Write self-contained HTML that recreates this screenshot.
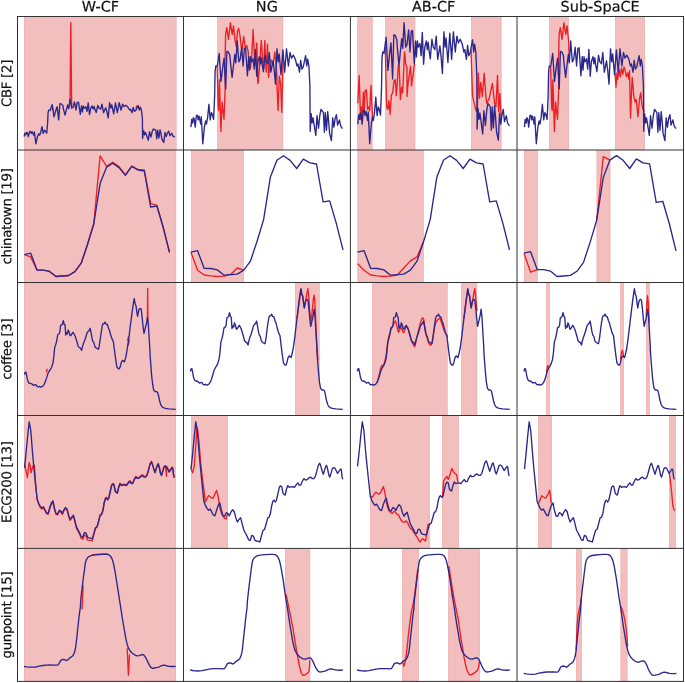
<!DOCTYPE html>
<html lang="en"><head><meta charset="utf-8"><title>Counterfactual comparison</title>
<style>html,body{margin:0;padding:0;background:#fff;}svg{display:block;}text{font-family:"DejaVu Sans","Liberation Sans",sans-serif;fill:#111;}</style></head><body>
<svg width="685" height="683" viewBox="0 0 685 683">
<rect x="0" y="0" width="685" height="683" fill="#fff"/>
<defs>
<clipPath id="c00"><rect x="17.50" y="16.50" width="166.00" height="133.50"/></clipPath>
<clipPath id="c01"><rect x="183.50" y="16.50" width="166.90" height="133.50"/></clipPath>
<clipPath id="c02"><rect x="350.40" y="16.50" width="166.60" height="133.50"/></clipPath>
<clipPath id="c03"><rect x="517.00" y="16.50" width="166.50" height="133.50"/></clipPath>
<clipPath id="c10"><rect x="17.50" y="150.00" width="166.00" height="132.50"/></clipPath>
<clipPath id="c11"><rect x="183.50" y="150.00" width="166.90" height="132.50"/></clipPath>
<clipPath id="c12"><rect x="350.40" y="150.00" width="166.60" height="132.50"/></clipPath>
<clipPath id="c13"><rect x="517.00" y="150.00" width="166.50" height="132.50"/></clipPath>
<clipPath id="c20"><rect x="17.50" y="282.50" width="166.00" height="133.00"/></clipPath>
<clipPath id="c21"><rect x="183.50" y="282.50" width="166.90" height="133.00"/></clipPath>
<clipPath id="c22"><rect x="350.40" y="282.50" width="166.60" height="133.00"/></clipPath>
<clipPath id="c23"><rect x="517.00" y="282.50" width="166.50" height="133.00"/></clipPath>
<clipPath id="c30"><rect x="17.50" y="415.50" width="166.00" height="132.90"/></clipPath>
<clipPath id="c31"><rect x="183.50" y="415.50" width="166.90" height="132.90"/></clipPath>
<clipPath id="c32"><rect x="350.40" y="415.50" width="166.60" height="132.90"/></clipPath>
<clipPath id="c33"><rect x="517.00" y="415.50" width="166.50" height="132.90"/></clipPath>
<clipPath id="c40"><rect x="17.50" y="548.40" width="166.00" height="133.00"/></clipPath>
<clipPath id="c41"><rect x="183.50" y="548.40" width="166.90" height="133.00"/></clipPath>
<clipPath id="c42"><rect x="350.40" y="548.40" width="166.60" height="133.00"/></clipPath>
<clipPath id="c43"><rect x="517.00" y="548.40" width="166.50" height="133.00"/></clipPath>
</defs>
<g clip-path="url(#c00)">
<rect x="24.00" y="16.50" width="152.40" height="133.50" fill="#f3bebe"/>
<rect x="24.00" y="16.50" width="0.6" height="133.50" fill="#eeb0b0"/>
<rect x="175.80" y="16.50" width="0.6" height="133.50" fill="#eeb0b0"/>
<polyline points="70.0,104.5 70.8,22.6 71.7,106.5" fill="none" stroke="#ec2024" stroke-width="1.35" stroke-linejoin="round" stroke-linecap="butt"/>
<polyline points="52.0,109.5 52.8,108.2 53.5,110.5" fill="none" stroke="#ec2024" stroke-width="1.35" stroke-linejoin="round" stroke-linecap="butt"/>
<polyline points="135.8,108.5 136.8,106.0 137.8,108.0" fill="none" stroke="#ec2024" stroke-width="1.35" stroke-linejoin="round" stroke-linecap="butt"/>
<polyline points="24.1,136.6 24.9,133.2 25.9,134.8 26.5,132.5 27.4,132.9 28.3,136.6 29.6,131.6 30.5,131.4 31.4,133.4 32.2,131.8 33.8,135.2 34.4,132.0 35.9,143.8 37.5,136.6 38.7,133.8 39.6,135.2 40.8,132.0 42.0,126.6 43.2,133.4 44.5,130.2 45.4,131.1 46.7,133.2 47.6,123.5 48.1,112.3 48.9,110.0 50.1,110.5 52.2,104.6 54.0,116.8 55.8,110.5 57.1,106.6 58.7,119.9 59.9,103.7 61.3,103.9 62.8,105.5 63.5,109.1 65.0,115.0 66.2,110.5 67.7,105.0 68.7,108.6 70.1,99.2 71.7,108.2 73.0,107.3 74.5,101.9 76.0,110.0 77.2,102.3 78.5,102.1 80.3,114.3 81.5,105.9 82.4,111.8 83.3,105.9 84.3,108.2 85.8,106.8 87.0,111.4 88.2,102.8 89.5,114.5 90.7,108.2 92.1,105.9 93.1,109.1 94.1,106.4 95.0,109.6 96.2,112.5 97.8,105.3 99.0,108.2 100.8,109.1 100.8,108.2 102.0,104.1 103.5,112.7 104.5,110.5 105.7,107.7 106.9,111.8 108.2,117.9 109.6,102.6 110.9,108.2 111.8,104.8 113.7,113.8 115.5,103.0 117.3,112.7 119.2,102.6 121.0,110.0 122.6,104.1 124.1,106.6 125.9,105.3 127.7,106.8 129.6,110.0 130.4,109.1 132.0,112.7 133.2,107.5 134.4,111.4 135.7,110.5 136.9,108.0 138.1,105.5 139.3,110.0 140.2,107.1 141.4,110.0 142.4,118.6 142.6,138.4 143.6,130.7 144.6,134.8 145.4,132.5 146.7,135.7 148.3,140.2 149.5,131.6 150.9,137.0 152.2,131.6 153.4,128.9 154.6,129.6 155.8,130.2 156.8,138.8 157.7,130.2 158.9,137.9 160.1,129.8 161.0,133.8 162.0,139.3 163.8,142.4 165.0,132.5 166.2,136.6 167.5,132.9 168.7,131.1 169.9,135.7 171.7,133.4 173.0,136.1 174.8,137.2" fill="none" stroke="#2b278c" stroke-width="1.35" stroke-linejoin="round" stroke-linecap="butt"/>
</g>
<g clip-path="url(#c01)">
<rect x="217.20" y="16.50" width="65.90" height="133.50" fill="#f3bebe"/>
<rect x="217.20" y="16.50" width="0.6" height="133.50" fill="#eeb0b0"/>
<rect x="282.50" y="16.50" width="0.6" height="133.50" fill="#eeb0b0"/>
<polyline points="217.2,67.7 218.2,106.9 218.7,110.6 219.4,79.8 220.9,131.5 222.1,102.0 223.1,111.8 224.0,119.2 225.2,88.4 225.0,65.2 225.6,34.4 226.8,27.7 228.5,39.4 230.4,22.8 232.2,34.4 233.5,25.8 235.1,40.6 236.3,46.7 237.5,30.8 238.7,28.3 240.0,35.7 241.2,46.7 242.1,49.2 243.7,36.3 245.3,48.0 246.7,45.5 248.2,51.7 249.2,65.2 250.4,68.9 251.7,56.6 253.1,29.5 254.7,62.7 256.0,65.2 256.8,43.1 257.8,83.6 256.3,43.2 258.1,82.7 259.8,63.4 261.3,40.5 263.1,65.1 263.8,68.7 264.8,40.5 266.2,72.2 267.5,44.1 268.6,77.4 269.9,63.4 271.3,59.9 272.6,65.1 273.9,59.0 274.8,52.0 276.1,65.1 277.0,79.2 276.9,84.8 278.1,110.6 279.3,76.1 280.6,83.5 281.8,112.4 282.6,79.8 283.1,56.4" fill="none" stroke="#ec2024" stroke-width="1.35" stroke-linejoin="round" stroke-linecap="butt"/>
<polyline points="190.9,127.1 191.7,119.4 192.7,123.0 193.3,117.8 194.2,118.8 195.2,127.1 196.4,115.7 197.4,115.2 198.2,119.9 199.1,116.2 200.7,124.0 201.3,116.8 202.8,143.8 204.4,127.1 205.6,120.9 206.5,124.0 207.7,116.8 208.9,104.3 210.2,119.9 211.4,112.6 212.4,114.7 213.6,119.4 214.6,97.0 215.1,71.2 215.8,66.0 217.1,67.0 219.2,53.5 221.0,81.5 222.8,67.0 224.1,58.2 225.7,88.8 226.9,51.4 228.4,51.9 229.9,55.6 230.6,63.9 232.1,77.4 233.3,67.0 234.8,54.5 235.8,62.8 237.2,41.0 238.8,61.8 240.1,59.7 241.7,47.3 243.1,66.0 244.4,48.3 245.6,47.8 247.4,75.8 248.7,56.6 249.5,70.1 250.5,56.6 251.5,61.8 253.0,58.7 254.2,69.1 255.4,49.3 256.7,76.3 257.9,61.8 259.4,56.6 260.4,63.9 261.3,57.7 262.2,64.9 263.4,71.7 265.0,55.1 266.3,61.8 268.1,63.9 268.1,61.8 269.3,52.5 270.8,72.2 271.8,67.0 273.0,60.8 274.2,70.1 275.5,84.1 277.0,48.8 278.2,61.8 279.2,54.0 281.0,74.8 282.9,49.9 284.7,72.2 286.5,48.8 288.4,66.0 290.0,52.5 291.5,58.2 293.3,55.1 295.2,58.7 297.0,66.0 297.9,63.9 299.5,72.2 300.7,60.3 301.9,69.1 303.2,67.0 304.4,61.3 305.6,55.6 306.8,66.0 307.7,59.2 308.9,66.0 309.9,85.7 310.2,131.3 311.1,113.6 312.1,123.0 313.0,117.8 314.2,125.1 315.8,135.5 317.0,115.7 318.5,128.2 319.8,115.7 321.0,109.5 322.2,111.0 323.4,112.6 324.4,132.3 325.3,112.6 326.5,130.3 327.7,111.6 328.6,120.9 329.6,133.4 331.4,140.6 332.7,117.8 333.9,127.1 335.1,118.8 336.4,114.7 337.6,125.1 339.4,119.9 340.7,126.1 342.5,128.7" fill="none" stroke="#2b278c" stroke-width="1.35" stroke-linejoin="round" stroke-linecap="butt"/>
</g>
<g clip-path="url(#c02)">
<rect x="357.40" y="16.50" width="15.10" height="133.50" fill="#f3bebe"/>
<rect x="357.40" y="16.50" width="0.6" height="133.50" fill="#eeb0b0"/>
<rect x="371.90" y="16.50" width="0.6" height="133.50" fill="#eeb0b0"/>
<rect x="385.20" y="16.50" width="30.00" height="133.50" fill="#f3bebe"/>
<rect x="385.20" y="16.50" width="0.6" height="133.50" fill="#eeb0b0"/>
<rect x="414.60" y="16.50" width="0.6" height="133.50" fill="#eeb0b0"/>
<rect x="471.00" y="16.50" width="30.40" height="133.50" fill="#f3bebe"/>
<rect x="471.00" y="16.50" width="0.6" height="133.50" fill="#eeb0b0"/>
<rect x="500.80" y="16.50" width="0.6" height="133.50" fill="#eeb0b0"/>
<polyline points="357.8,103.2 359.2,75.5 360.6,119.2 361.5,106.9 362.3,120.4 363.3,92.1 364.3,110.6 365.1,90.9 366.4,89.7 367.6,109.4 368.8,106.9 369.7,110.6 371.0,85.4 372.5,116.7" fill="none" stroke="#ec2024" stroke-width="1.35" stroke-linejoin="round" stroke-linecap="butt"/>
<polyline points="385.2,46.7 386.7,106.9 387.9,109.4 388.9,100.7 390.1,114.3 391.3,95.8 392.8,92.1 394.0,81.1 395.3,79.8 396.3,95.8 397.1,86.0 398.3,65.2 399.2,66.4 400.4,99.5 401.7,87.2 402.7,92.8 404.5,51.7 405.7,64.0 407.0,67.7 407.0,96.4 408.2,82.3 408.8,77.5 410.6,66.4 411.5,86.0 412.5,77.4 413.1,75.0 414.3,65.2 415.0,64.0" fill="none" stroke="#ec2024" stroke-width="1.35" stroke-linejoin="round" stroke-linecap="butt"/>
<polyline points="471.0,49.2 472.5,95.8 474.4,104.4 476.2,111.2 477.4,106.9 478.3,73.1 479.5,98.3 480.8,82.3 482.3,96.4 484.2,73.1 485.7,94.6 486.7,103.2 489.1,98.9 492.4,83.5 494.6,103.2 495.9,106.9 497.5,75.5 498.7,111.8 499.9,93.4 500.8,110.6 501.4,116.7" fill="none" stroke="#ec2024" stroke-width="1.35" stroke-linejoin="round" stroke-linecap="butt"/>
<polyline points="357.8,124.2 358.6,115.0 359.6,119.3 360.2,113.2 361.1,114.4 362.1,124.2 363.3,110.7 364.3,110.1 365.1,115.6 366.0,111.3 367.6,120.5 368.2,111.9 369.7,143.8 371.3,124.2 372.5,116.8 373.4,120.5 374.6,111.9 375.8,97.2 377.1,115.6 378.3,107.0 379.3,109.5 380.5,115.0 381.5,88.7 382.0,58.2 382.7,52.0 384.0,53.3 386.1,37.3 387.9,70.4 389.7,53.3 391.0,42.9 392.6,79.0 393.8,34.9 395.3,35.5 396.8,39.8 397.5,49.6 399.0,65.5 400.2,53.3 401.7,38.6 402.7,48.4 404.1,22.6 405.7,47.1 407.0,44.7 408.6,30.0 410.0,52.0 411.3,31.2 412.5,30.6 414.3,63.7 415.6,41.0 416.4,56.9 417.4,41.0 418.4,47.1 419.9,43.5 421.1,55.7 422.3,32.4 423.6,64.3 424.8,47.1 426.3,41.0 427.3,49.6 428.2,42.2 429.1,50.8 430.3,58.8 431.9,39.2 433.2,47.1 435.0,49.6 435.0,47.1 436.2,36.1 437.7,59.4 438.7,53.3 439.9,45.9 441.1,56.9 442.4,73.5 443.9,31.8 445.1,47.1 446.1,38.0 447.9,62.5 449.8,33.1 451.6,59.4 453.4,31.8 455.3,52.0 456.9,36.1 458.4,42.9 460.2,39.2 462.1,43.5 463.9,52.0 464.8,49.6 466.4,59.4 467.6,45.3 468.8,55.7 470.1,53.3 471.3,46.5 472.5,39.8 473.7,52.0 474.6,44.1 475.8,52.0 476.8,75.3 477.1,129.1 478.0,108.3 479.0,119.3 479.9,113.2 481.1,121.7 482.7,134.0 483.9,110.7 485.4,125.4 486.7,110.7 487.9,103.4 489.1,105.2 490.3,107.0 491.3,130.3 492.2,107.0 493.4,127.9 494.6,105.8 495.5,116.8 496.5,131.5 498.3,140.1 499.6,113.2 500.8,124.2 502.0,114.4 503.3,109.5 504.5,121.7 506.3,115.6 507.6,123.0 509.4,126.0" fill="none" stroke="#2b278c" stroke-width="1.35" stroke-linejoin="round" stroke-linecap="butt"/>
</g>
<g clip-path="url(#c03)">
<rect x="549.20" y="16.50" width="19.70" height="133.50" fill="#f3bebe"/>
<rect x="549.20" y="16.50" width="0.6" height="133.50" fill="#eeb0b0"/>
<rect x="568.30" y="16.50" width="0.6" height="133.50" fill="#eeb0b0"/>
<rect x="615.00" y="16.50" width="29.90" height="133.50" fill="#f3bebe"/>
<rect x="615.00" y="16.50" width="0.6" height="133.50" fill="#eeb0b0"/>
<rect x="644.30" y="16.50" width="0.6" height="133.50" fill="#eeb0b0"/>
<polyline points="550.7,67.7 551.7,106.9 552.2,110.6 552.9,79.8 554.4,131.5 555.6,102.0 556.6,111.8 557.5,119.2 558.7,88.4 558.5,65.2 559.1,34.4 560.3,27.7 562.0,39.4 563.9,22.8 565.7,34.4 567.0,25.8 568.6,40.6 569.3,57.8" fill="none" stroke="#ec2024" stroke-width="1.35" stroke-linejoin="round" stroke-linecap="butt"/>
<polyline points="615.0,73.0 616.0,87.2 617.0,73.0 617.8,79.2 619.1,69.4 620.3,76.7 621.5,68.1 622.8,74.3 624.0,66.9 625.2,70.6 626.4,76.7 627.7,73.0 628.9,79.2 629.5,70.6 630.5,118.0 631.4,94.6 632.2,77.4 633.8,95.8 635.1,102.0 636.3,99.5 637.9,116.7 639.6,98.3 640.8,92.8 641.8,104.4 643.0,109.4 644.3,111.8" fill="none" stroke="#ec2024" stroke-width="1.35" stroke-linejoin="round" stroke-linecap="butt"/>
<polyline points="524.4,127.1 525.2,119.4 526.2,123.0 526.8,117.8 527.7,118.8 528.7,127.1 529.9,115.7 530.9,115.2 531.7,119.9 532.6,116.2 534.2,124.0 534.8,116.8 536.3,143.8 537.9,127.1 539.1,120.9 540.0,124.0 541.2,116.8 542.4,104.3 543.7,119.9 544.9,112.6 545.9,114.7 547.1,119.4 548.1,97.0 548.6,71.2 549.3,66.0 550.6,67.0 552.7,53.5 554.5,81.5 556.3,67.0 557.6,58.2 559.2,88.8 560.4,51.4 561.9,51.9 563.4,55.6 564.1,63.9 565.6,77.4 566.8,67.0 568.3,54.5 569.3,62.8 570.7,41.0 572.3,61.8 573.6,59.7 575.2,47.3 576.6,66.0 577.9,48.3 579.1,47.8 580.9,75.8 582.2,56.6 583.0,70.1 584.0,56.6 585.0,61.8 586.5,58.7 587.7,69.1 588.9,49.3 590.2,76.3 591.4,61.8 592.9,56.6 593.9,63.9 594.8,57.7 595.7,64.9 596.9,71.7 598.5,55.1 599.8,61.8 601.6,63.9 601.6,61.8 602.8,52.5 604.3,72.2 605.3,67.0 606.5,60.8 607.7,70.1 609.0,84.1 610.5,48.8 611.7,61.8 612.7,54.0 614.5,74.8 616.4,49.9 618.2,72.2 620.0,48.8 621.9,66.0 623.5,52.5 625.0,58.2 626.8,55.1 628.7,58.7 630.5,66.0 631.4,63.9 633.0,72.2 634.2,60.3 635.4,69.1 636.7,67.0 637.9,61.3 639.1,55.6 640.3,66.0 641.2,59.2 642.4,66.0 643.4,85.7 643.7,131.3 644.6,113.6 645.6,123.0 646.5,117.8 647.7,125.1 649.3,135.5 650.5,115.7 652.0,128.2 653.3,115.7 654.5,109.5 655.7,111.0 656.9,112.6 657.9,132.3 658.8,112.6 660.0,130.3 661.2,111.6 662.1,120.9 663.1,133.4 664.9,140.6 666.2,117.8 667.4,127.1 668.6,118.8 669.9,114.7 671.1,125.1 672.9,119.9 674.2,126.1 676.0,128.7" fill="none" stroke="#2b278c" stroke-width="1.35" stroke-linejoin="round" stroke-linecap="butt"/>
</g>
<g clip-path="url(#c10)">
<rect x="24.00" y="150.00" width="152.10" height="132.50" fill="#f3bebe"/>
<rect x="24.00" y="150.00" width="0.6" height="132.50" fill="#eeb0b0"/>
<rect x="175.50" y="150.00" width="0.6" height="132.50" fill="#eeb0b0"/>
<polyline points="24.4,254.7 30.7,256.9 37.0,270.0 43.3,270.1 49.6,271.4 55.9,276.5 62.3,276.0 68.6,275.5 74.9,271.6 81.2,263.2 87.5,244.5 93.8,223.7 100.1,155.9 106.4,166.2 112.7,162.3 119.0,166.6 125.4,174.9 131.7,166.2 138.0,169.4 144.3,169.9 150.6,203.4 156.9,205.4 163.2,227.3 169.5,252.4" fill="none" stroke="#ec2024" stroke-width="1.35" stroke-linejoin="round" stroke-linecap="butt"/>
<polyline points="24.4,254.7 30.7,253.2 37.0,270.0 43.3,270.1 49.6,271.4 55.9,276.5 62.3,276.0 68.6,275.5 74.9,271.6 81.2,263.2 87.5,244.5 93.8,223.7 100.1,183.6 106.4,167.4 112.7,163.2 119.0,167.6 125.4,175.3 131.7,166.3 138.0,170.0 144.3,171.0 150.6,207.0 156.9,206.0 163.2,227.3 169.5,252.4" fill="none" stroke="#2b278c" stroke-width="1.35" stroke-linejoin="round" stroke-linecap="butt"/>
</g>
<g clip-path="url(#c11)">
<rect x="191.00" y="150.00" width="52.90" height="132.50" fill="#f3bebe"/>
<rect x="191.00" y="150.00" width="0.6" height="132.50" fill="#eeb0b0"/>
<rect x="243.30" y="150.00" width="0.6" height="132.50" fill="#eeb0b0"/>
<polyline points="190.9,252.2 197.6,270.3 204.2,275.0 210.8,275.9 217.4,276.5 224.0,276.1 230.6,274.4 237.2,268.0 243.8,270.1" fill="none" stroke="#ec2024" stroke-width="1.35" stroke-linejoin="round" stroke-linecap="butt"/>
<polyline points="190.9,252.2 197.6,250.7 204.2,268.4 210.8,268.5 217.4,269.9 224.0,275.2 230.6,274.7 237.2,274.1 243.8,270.1 250.4,261.2 257.0,241.5 263.6,219.6 270.3,177.3 276.9,160.2 283.5,155.8 290.1,160.4 296.7,168.5 303.3,159.1 309.9,162.9 316.5,164.0 323.1,201.9 329.7,200.9 336.3,223.4 343.0,249.8" fill="none" stroke="#2b278c" stroke-width="1.35" stroke-linejoin="round" stroke-linecap="butt"/>
</g>
<g clip-path="url(#c12)">
<rect x="357.50" y="150.00" width="66.20" height="132.50" fill="#f3bebe"/>
<rect x="357.50" y="150.00" width="0.6" height="132.50" fill="#eeb0b0"/>
<rect x="423.10" y="150.00" width="0.6" height="132.50" fill="#eeb0b0"/>
<polyline points="357.5,263.6 364.1,270.3 370.7,275.0 377.3,275.9 383.9,276.5 390.5,276.1 397.2,275.0 403.8,268.0 410.4,260.9 417.0,256.9 423.6,241.5" fill="none" stroke="#ec2024" stroke-width="1.35" stroke-linejoin="round" stroke-linecap="butt"/>
<polyline points="357.5,252.2 364.1,250.7 370.7,268.4 377.3,268.5 383.9,269.9 390.5,275.2 397.2,274.7 403.8,274.1 410.4,270.1 417.0,261.2 423.6,241.5 430.2,219.6 436.8,177.3 443.4,160.2 450.0,155.8 456.6,160.4 463.2,168.5 469.9,159.1 476.5,162.9 483.1,164.0 489.7,201.9 496.3,200.9 502.9,223.4 509.5,249.8" fill="none" stroke="#2b278c" stroke-width="1.35" stroke-linejoin="round" stroke-linecap="butt"/>
</g>
<g clip-path="url(#c13)">
<rect x="524.00" y="150.00" width="13.70" height="132.50" fill="#f3bebe"/>
<rect x="524.00" y="150.00" width="0.6" height="132.50" fill="#eeb0b0"/>
<rect x="537.10" y="150.00" width="0.6" height="132.50" fill="#eeb0b0"/>
<rect x="596.70" y="150.00" width="13.60" height="132.50" fill="#f3bebe"/>
<rect x="596.70" y="150.00" width="0.6" height="132.50" fill="#eeb0b0"/>
<rect x="609.70" y="150.00" width="0.6" height="132.50" fill="#eeb0b0"/>
<polyline points="524.0,253.2 530.6,272.2 537.2,269.6" fill="none" stroke="#ec2024" stroke-width="1.35" stroke-linejoin="round" stroke-linecap="butt"/>
<polyline points="596.7,220.2 603.3,156.6 609.9,160.1" fill="none" stroke="#ec2024" stroke-width="1.35" stroke-linejoin="round" stroke-linecap="butt"/>
<polyline points="524.0,253.2 530.6,251.7 537.2,269.6 543.8,269.7 550.4,271.1 557.0,276.5 563.7,276.0 570.3,275.4 576.9,271.3 583.5,262.4 590.1,242.4 596.7,220.2 603.3,177.4 609.9,160.1 616.5,155.6 623.1,160.3 629.7,168.5 636.4,158.9 643.0,162.8 649.6,163.9 656.2,202.3 662.8,201.3 669.4,224.0 676.0,250.8" fill="none" stroke="#2b278c" stroke-width="1.35" stroke-linejoin="round" stroke-linecap="butt"/>
</g>
<g clip-path="url(#c20)">
<rect x="24.00" y="282.50" width="152.20" height="133.00" fill="#f3bebe"/>
<rect x="24.00" y="282.50" width="0.6" height="133.00" fill="#eeb0b0"/>
<rect x="175.60" y="282.50" width="0.6" height="133.00" fill="#eeb0b0"/>
<polyline points="147.4,322.0 147.7,288.4 147.9,322.0" fill="none" stroke="#ec2024" stroke-width="1.35" stroke-linejoin="round" stroke-linecap="butt"/>
<polyline points="128.2,345.5 128.8,342.5 129.4,340.0" fill="none" stroke="#ec2024" stroke-width="1.35" stroke-linejoin="round" stroke-linecap="butt"/>
<polyline points="46.6,372.5 46.9,369.6 47.6,369.0" fill="none" stroke="#ec2024" stroke-width="1.35" stroke-linejoin="round" stroke-linecap="butt"/>
<polyline points="127.6,341.0 128.4,336.5" fill="none" stroke="#ec2024" stroke-width="1.35" stroke-linejoin="round" stroke-linecap="butt"/>
<polyline points="24.4,374.6 25.1,372.3 25.9,372.1 26.6,375.1 27.6,380.2 28.8,383.0 30.3,383.4 31.7,383.8 33.3,385.3 34.5,384.9 35.8,384.7 37.0,386.4 38.2,387.0 39.4,386.4 40.6,387.2 41.9,386.7 43.1,385.8 44.3,384.1 45.5,381.1 46.8,377.4 48.0,373.4 49.2,371.2 50.4,369.5 51.6,367.2 52.9,363.3 53.7,357.6 54.7,347.5 55.9,344.1 56.9,339.6 57.8,334.5 59.0,334.0 59.8,332.3 60.6,325.5 61.4,324.9 62.3,324.4 63.3,320.6 64.2,324.4 65.1,324.9 65.7,335.1 66.7,332.8 67.5,334.0 68.1,330.0 69.1,331.7 70.0,335.6 70.8,335.6 71.8,334.0 73.0,332.3 74.0,334.0 74.9,335.6 76.1,339.0 77.3,343.0 78.2,346.4 79.4,347.5 80.6,348.4 81.6,350.3 82.6,346.4 83.4,343.5 84.6,340.7 85.9,336.8 87.1,332.8 88.3,331.1 89.2,330.6 90.1,328.3 91.1,332.8 92.0,337.9 92.8,341.3 93.8,342.4 95.0,346.9 96.3,348.1 97.5,348.6 98.3,349.2 98.8,348.5 99.7,342.9 101.0,333.9 102.2,326.0 103.0,323.7 104.3,323.5 105.1,322.0 106.1,324.3 107.3,324.3 108.3,327.7 109.5,330.5 110.7,335.0 112.0,338.9 113.4,341.8 114.4,349.7 115.6,358.7 116.8,366.6 118.1,368.6 119.3,368.8 120.3,366.6 121.4,362.1 122.6,360.4 123.4,360.9 124.4,361.8 125.4,358.7 126.6,353.0 127.8,345.2 129.1,336.1 130.3,326.0 131.5,317.0 132.7,307.9 133.6,302.3 134.2,298.7 135.2,304.0 136.0,305.7 136.9,312.4 137.6,316.4 138.5,311.3 139.3,309.1 140.3,308.5 141.2,309.1 142.1,317.0 143.0,326.0 144.0,333.3 145.0,329.4 145.8,326.0 146.7,322.6 147.4,317.5 148.3,323.7 149.1,337.3 150.1,353.0 150.0,354.1 150.8,364.6 151.7,376.1 152.7,384.5 153.8,390.3 155.1,391.6 156.5,391.6 157.6,392.4 158.6,396.0 159.7,401.3 160.8,404.9 162.0,406.7 163.3,407.7 165.4,408.4 168.8,408.9 172.2,409.1 175.8,409.3" fill="none" stroke="#2b278c" stroke-width="1.35" stroke-linejoin="round" stroke-linecap="butt"/>
</g>
<g clip-path="url(#c21)">
<rect x="295.00" y="282.50" width="24.55" height="133.00" fill="#f3bebe"/>
<rect x="295.00" y="282.50" width="0.6" height="133.00" fill="#eeb0b0"/>
<rect x="318.95" y="282.50" width="0.6" height="133.00" fill="#eeb0b0"/>
<polyline points="297.0,318.4 298.2,309.2 299.4,300.6 300.3,293.8 300.9,289.5 301.9,294.8 302.7,295.7 303.6,302.4 304.3,307.4 305.2,303.7 305.8,300.0 306.4,296.3 307.0,293.2 307.9,288.7 308.5,293.8 308.9,298.8 309.8,312.3 310.7,320.9 311.7,316.0 312.6,307.4 313.4,298.8 314.2,295.1 314.7,300.0 315.0,304.9 315.9,327.0 316.9,346.1 317.9,359.6" fill="none" stroke="#ec2024" stroke-width="1.35" stroke-linejoin="round" stroke-linecap="butt"/>
<polyline points="190.4,371.4 191.1,369.0 191.9,368.7 192.6,372.0 193.6,377.6 194.8,380.6 196.3,381.0 197.8,381.5 199.4,383.1 200.6,382.7 201.8,382.5 203.1,384.3 204.3,384.9 205.5,384.3 206.8,385.2 208.0,384.7 209.2,383.7 210.4,381.9 211.7,378.5 212.9,374.5 214.1,370.2 215.4,367.7 216.6,365.9 217.8,363.4 219.1,359.1 219.9,353.0 220.9,341.9 222.1,338.2 223.1,333.3 224.0,327.8 225.2,327.1 226.1,325.3 226.8,317.9 227.7,317.3 228.5,316.7 229.5,312.6 230.5,316.7 231.3,317.3 232.0,328.4 232.9,325.9 233.8,327.1 234.4,322.8 235.4,324.7 236.3,329.0 237.1,329.0 238.1,327.1 239.3,325.3 240.3,327.1 241.2,329.0 242.4,332.7 243.6,337.0 244.5,340.7 245.7,341.9 247.0,342.9 248.0,345.0 248.9,340.7 249.8,337.6 251.0,334.5 252.3,330.2 253.5,325.9 254.7,324.1 255.6,323.4 256.6,321.0 257.5,325.9 258.4,331.4 259.3,335.1 260.3,336.4 261.5,341.3 262.7,342.5 263.9,343.1 264.8,343.7 265.2,343.0 266.2,336.9 267.4,327.0 268.7,318.4 269.5,316.0 270.8,315.7 271.6,314.1 272.6,316.6 273.8,316.6 274.8,320.3 276.1,323.4 277.3,328.3 278.5,332.6 280.0,335.7 281.0,344.3 282.2,354.1 283.4,362.7 284.7,364.9 285.9,365.2 286.9,362.7 288.0,357.8 289.2,355.9 290.1,356.6 291.1,357.5 292.0,354.1 293.3,348.0 294.5,339.3 295.7,329.5 297.0,318.4 298.2,308.6 299.4,298.8 300.3,292.6 300.9,288.7 301.9,294.5 302.7,296.3 303.6,303.7 304.3,308.0 305.2,302.4 306.1,300.0 307.0,299.4 307.9,300.0 308.9,308.6 309.8,318.4 310.7,326.4 311.7,322.1 312.6,318.4 313.4,314.7 314.2,309.2 315.0,316.0 315.9,330.7 316.9,348.0 316.8,349.1 317.6,360.6 318.6,373.1 319.5,382.3 320.6,388.5 322.0,390.0 323.3,390.0 324.5,390.8 325.4,394.8 326.5,400.5 327.7,404.5 328.8,406.5 330.2,407.6 332.3,408.3 335.7,408.9 339.1,409.1 342.8,409.3" fill="none" stroke="#2b278c" stroke-width="1.35" stroke-linejoin="round" stroke-linecap="butt"/>
</g>
<g clip-path="url(#c22)">
<rect x="372.00" y="282.50" width="75.50" height="133.00" fill="#f3bebe"/>
<rect x="372.00" y="282.50" width="0.6" height="133.00" fill="#eeb0b0"/>
<rect x="446.90" y="282.50" width="0.6" height="133.00" fill="#eeb0b0"/>
<rect x="461.15" y="282.50" width="15.95" height="133.00" fill="#f3bebe"/>
<rect x="461.15" y="282.50" width="0.6" height="133.00" fill="#eeb0b0"/>
<rect x="476.50" y="282.50" width="0.6" height="133.00" fill="#eeb0b0"/>
<polyline points="377.1,382.6 378.9,376.3 380.5,368.9 381.7,365.4 383.2,365.8 384.7,362.1 386.3,354.1 387.5,344.3 388.8,336.3 390.0,333.2 391.2,328.9 392.8,326.4 394.3,322.8 395.5,320.9 396.7,324.6 397.7,330.1 398.6,332.2 399.8,329.5 400.8,327.7 401.9,329.5 402.9,332.2 403.9,332.6 405.1,328.9 406.3,326.4 407.8,327.7 409.0,332.0 410.5,337.5 412.1,342.4 413.7,345.5 414.6,346.5 415.8,342.4 417.0,336.9 418.6,330.1 420.1,324.0 421.6,319.1 422.8,317.8 423.8,319.7 424.8,326.4 426.0,333.2 427.5,339.4 429.0,343.7 430.6,345.3 431.8,343.7 433.0,336.9 434.3,329.5 435.5,323.4 436.7,320.9 437.9,319.7 439.2,318.2 440.4,319.1 441.6,322.8 443.2,327.7 444.7,331.4 446.2,334.4 447.4,336.9" fill="none" stroke="#ec2024" stroke-width="1.35" stroke-linejoin="round" stroke-linecap="butt"/>
<polyline points="463.9,318.4 465.1,309.2 466.3,300.6 467.2,293.8 467.8,289.5 468.8,294.8 469.6,295.7 470.5,302.4 471.2,307.4 472.1,303.7 472.7,300.0 473.3,296.3 473.9,293.2 474.8,288.7 475.4,293.8 475.8,298.8 477.0,311.0" fill="none" stroke="#ec2024" stroke-width="1.35" stroke-linejoin="round" stroke-linecap="butt"/>
<polyline points="357.3,371.4 358.0,369.0 358.8,368.7 359.5,372.0 360.5,377.6 361.7,380.6 363.2,381.0 364.7,381.5 366.3,383.1 367.5,382.7 368.7,382.5 370.0,384.3 371.2,384.9 372.4,384.3 373.7,385.2 374.9,384.7 376.1,383.7 377.3,381.9 378.6,378.5 379.8,374.5 381.0,370.2 382.3,367.7 383.5,365.9 384.7,363.4 386.0,359.1 386.8,353.0 387.8,341.9 389.0,338.2 390.0,333.3 390.9,327.8 392.1,327.1 393.0,325.3 393.7,317.9 394.6,317.3 395.4,316.7 396.4,312.6 397.4,316.7 398.2,317.3 398.9,328.4 399.8,325.9 400.7,327.1 401.3,322.8 402.3,324.7 403.2,329.0 404.0,329.0 405.0,327.1 406.2,325.3 407.2,327.1 408.1,329.0 409.3,332.7 410.5,337.0 411.4,340.7 412.6,341.9 413.9,342.9 414.9,345.0 415.8,340.7 416.7,337.6 417.9,334.5 419.2,330.2 420.4,325.9 421.6,324.1 422.5,323.4 423.5,321.0 424.4,325.9 425.3,331.4 426.2,335.1 427.2,336.4 428.4,341.3 429.6,342.5 430.8,343.1 431.7,343.7 432.1,343.0 433.1,336.9 434.3,327.0 435.6,318.4 436.4,316.0 437.7,315.7 438.5,314.1 439.5,316.6 440.7,316.6 441.7,320.3 443.0,323.4 444.2,328.3 445.4,332.6 446.9,335.7 447.9,344.3 449.1,354.1 450.3,362.7 451.6,364.9 452.8,365.2 453.8,362.7 454.9,357.8 456.1,355.9 457.0,356.6 458.0,357.5 458.9,354.1 460.2,348.0 461.4,339.3 462.6,329.5 463.9,318.4 465.1,308.6 466.3,298.8 467.2,292.6 467.8,288.7 468.8,294.5 469.6,296.3 470.5,303.7 471.2,308.0 472.1,302.4 473.0,300.0 473.9,299.4 474.8,300.0 475.8,308.6 476.7,318.4 477.6,326.4 478.6,322.1 479.5,318.4 480.3,314.7 481.1,309.2 481.9,316.0 482.8,330.7 483.8,348.0 483.7,349.1 484.5,360.6 485.5,373.1 486.4,382.3 487.5,388.5 488.9,390.0 490.2,390.0 491.4,390.8 492.3,394.8 493.4,400.5 494.6,404.5 495.7,406.5 497.1,407.6 499.2,408.3 502.6,408.9 506.0,409.1 509.7,409.3" fill="none" stroke="#2b278c" stroke-width="1.35" stroke-linejoin="round" stroke-linecap="butt"/>
</g>
<g clip-path="url(#c23)">
<rect x="546.30" y="282.50" width="3.60" height="133.00" fill="#f3bebe"/>
<rect x="546.30" y="282.50" width="0.6" height="133.00" fill="#eeb0b0"/>
<rect x="549.30" y="282.50" width="0.6" height="133.00" fill="#eeb0b0"/>
<rect x="620.20" y="282.50" width="3.60" height="133.00" fill="#f3bebe"/>
<rect x="620.20" y="282.50" width="0.6" height="133.00" fill="#eeb0b0"/>
<rect x="623.20" y="282.50" width="0.6" height="133.00" fill="#eeb0b0"/>
<rect x="646.10" y="282.50" width="3.50" height="133.00" fill="#f3bebe"/>
<rect x="646.10" y="282.50" width="0.6" height="133.00" fill="#eeb0b0"/>
<rect x="649.00" y="282.50" width="0.6" height="133.00" fill="#eeb0b0"/>
<polyline points="546.5,372.2 547.2,367.8 547.9,365.8 548.9,366.7" fill="none" stroke="#ec2024" stroke-width="1.35" stroke-linejoin="round" stroke-linecap="butt"/>
<polyline points="620.5,359.1 621.6,352.5 622.4,350.3 623.2,353.8 623.7,357.1" fill="none" stroke="#ec2024" stroke-width="1.35" stroke-linejoin="round" stroke-linecap="butt"/>
<polyline points="646.2,316.9 646.9,302.4 647.5,295.6 648.2,302.4 649.0,322.2" fill="none" stroke="#ec2024" stroke-width="1.35" stroke-linejoin="round" stroke-linecap="butt"/>
<polyline points="523.9,371.4 524.6,369.0 525.4,368.7 526.1,372.0 527.1,377.6 528.3,380.6 529.8,381.0 531.3,381.5 532.9,383.1 534.1,382.7 535.3,382.5 536.6,384.3 537.8,384.9 539.0,384.3 540.3,385.2 541.5,384.7 542.7,383.7 543.9,381.9 545.2,378.5 546.4,374.5 547.6,370.2 548.9,367.7 550.1,365.9 551.3,363.4 552.6,359.1 553.4,353.0 554.4,341.9 555.6,338.2 556.6,333.3 557.5,327.8 558.7,327.1 559.6,325.3 560.3,317.9 561.2,317.3 562.0,316.7 563.0,312.6 564.0,316.7 564.8,317.3 565.5,328.4 566.4,325.9 567.3,327.1 567.9,322.8 568.9,324.7 569.8,329.0 570.6,329.0 571.6,327.1 572.8,325.3 573.8,327.1 574.7,329.0 575.9,332.7 577.1,337.0 578.0,340.7 579.2,341.9 580.5,342.9 581.5,345.0 582.4,340.7 583.3,337.6 584.5,334.5 585.8,330.2 587.0,325.9 588.2,324.1 589.1,323.4 590.1,321.0 591.0,325.9 591.9,331.4 592.8,335.1 593.8,336.4 595.0,341.3 596.2,342.5 597.4,343.1 598.3,343.7 598.7,343.0 599.7,336.9 600.9,327.0 602.2,318.4 603.0,316.0 604.3,315.7 605.1,314.1 606.1,316.6 607.3,316.6 608.3,320.3 609.6,323.4 610.8,328.3 612.0,332.6 613.5,335.7 614.5,344.3 615.7,354.1 616.9,362.7 618.2,364.9 619.4,365.2 620.4,362.7 621.5,357.8 622.7,355.9 623.6,356.6 624.6,357.5 625.5,354.1 626.8,348.0 628.0,339.3 629.2,329.5 630.5,318.4 631.7,308.6 632.9,298.8 633.8,292.6 634.4,288.7 635.4,294.5 636.2,296.3 637.1,303.7 637.8,308.0 638.7,302.4 639.6,300.0 640.5,299.4 641.4,300.0 642.4,308.6 643.3,318.4 644.2,326.4 645.2,322.1 646.1,318.4 646.9,314.7 647.7,309.2 648.5,316.0 649.4,330.7 650.4,348.0 650.3,349.1 651.1,360.6 652.1,373.1 653.0,382.3 654.1,388.5 655.5,390.0 656.8,390.0 658.0,390.8 658.9,394.8 660.0,400.5 661.2,404.5 662.3,406.5 663.7,407.6 665.8,408.3 669.2,408.9 672.6,409.1 676.3,409.3" fill="none" stroke="#2b278c" stroke-width="1.35" stroke-linejoin="round" stroke-linecap="butt"/>
</g>
<g clip-path="url(#c30)">
<rect x="24.00" y="415.50" width="152.00" height="132.90" fill="#f3bebe"/>
<rect x="24.00" y="415.50" width="0.6" height="132.90" fill="#eeb0b0"/>
<rect x="175.40" y="415.50" width="0.6" height="132.90" fill="#eeb0b0"/>
<polyline points="24.4,463.6 25.9,470.3 27.4,477.7 28.3,469.1 29.3,462.4 30.3,466.6 31.1,472.8 32.4,467.9 33.6,464.8 34.5,466.0 35.5,483.5 37.1,499.0 38.7,504.2 40.2,507.2 41.8,509.0 43.4,507.8 45.0,510.8 46.6,513.8 48.1,514.4 49.7,509.0 51.3,504.2 52.9,501.8 54.4,509.0 56.0,514.4 57.6,515.0 59.2,511.4 60.8,512.0 62.3,514.4 63.9,510.8 65.5,508.4 67.1,510.2 68.6,516.2 70.2,520.4 71.8,518.0 73.4,516.2 75.0,522.2 76.5,528.1 78.1,531.2 79.7,534.5 81.3,538.5 82.9,539.4 84.4,535.0 86.0,535.9 87.6,540.2 89.2,540.4 90.7,540.3 92.3,540.7 93.9,534.6 95.5,528.3 97.1,527.1 98.6,521.8 100.2,514.4 101.5,514.1 103.0,509.8 104.1,502.7 105.3,498.4 106.3,497.2 107.7,499.1 108.7,497.7 110.2,491.2 111.6,484.8 112.8,483.4 113.9,484.1 115.2,490.5 116.4,492.0 117.4,492.4 118.6,487.0 120.0,483.1 121.5,484.8 122.9,484.4 124.6,484.1 126.5,484.8 128.0,482.7 129.8,480.6 131.3,482.7 132.7,482.7 134.2,479.1 135.9,476.3 137.4,477.7 139.1,477.4 141.0,475.6 142.4,474.8 143.9,476.3 145.7,476.3 147.2,474.1 148.6,469.1 150.1,463.4 151.5,461.3 152.5,464.2 154.0,469.1 155.0,472.0 156.1,468.4 157.6,464.2 158.3,463.4 159.3,467.0 160.5,472.7 161.5,474.8 162.6,471.3 164.1,466.3 165.5,465.6 166.5,476.2 166.6,466.3 167.7,468.4 169.2,471.3 170.6,469.1 172.0,467.0 172.8,467.7 173.5,474.1 174.2,477.0" fill="none" stroke="#ec2024" stroke-width="1.35" stroke-linejoin="round" stroke-linecap="butt"/>
<polyline points="24.5,467.9 26.0,453.5 27.6,436.7 29.2,421.8 30.8,430.7 32.4,451.1 33.9,467.9 35.5,483.5 37.1,499.0 38.7,503.2 40.2,506.2 41.8,508.0 43.4,506.8 45.0,509.8 46.6,512.8 48.1,513.4 49.7,508.0 51.3,503.2 52.9,500.8 54.4,508.0 56.0,513.4 57.6,514.0 59.2,510.4 60.8,511.0 62.3,513.4 63.9,509.8 65.5,507.4 67.1,509.2 68.6,515.2 70.2,519.4 71.8,517.0 73.4,515.2 75.0,521.2 76.5,527.1 78.1,530.1 79.7,533.1 81.3,536.7 82.9,537.3 84.4,532.5 86.0,533.1 87.6,537.3 89.2,537.9 90.7,538.2 92.3,538.9 93.9,533.1 95.5,527.7 97.1,526.5 98.6,521.2 100.2,515.2 101.5,514.9 103.0,510.6 104.1,503.5 105.3,499.2 106.3,498.0 107.7,499.9 108.7,498.5 110.2,492.0 111.6,485.6 112.8,484.2 113.9,484.9 115.2,491.3 116.4,492.8 117.4,493.2 118.6,487.8 120.0,483.9 121.5,485.6 122.9,485.2 124.6,484.9 126.5,485.6 128.0,483.5 129.8,481.4 131.3,483.5 132.7,483.5 134.2,479.9 135.9,477.1 137.4,478.5 139.1,478.2 141.0,476.4 142.4,475.6 143.9,477.1 145.7,477.1 147.2,474.9 148.6,469.9 150.1,464.2 151.5,462.1 152.5,465.0 154.0,469.9 155.0,472.8 156.1,469.2 157.6,465.0 158.3,464.2 159.3,467.8 160.5,473.5 161.5,475.6 162.6,472.1 164.1,467.1 165.5,466.4 166.6,467.1 167.7,469.2 169.2,472.1 170.6,469.9 172.0,467.8 172.8,468.5 173.5,474.9 174.2,477.8" fill="none" stroke="#2b278c" stroke-width="1.35" stroke-linejoin="round" stroke-linecap="butt"/>
</g>
<g clip-path="url(#c31)">
<rect x="191.00" y="415.50" width="37.00" height="132.90" fill="#f3bebe"/>
<rect x="191.00" y="415.50" width="0.6" height="132.90" fill="#eeb0b0"/>
<rect x="227.40" y="415.50" width="0.6" height="132.90" fill="#eeb0b0"/>
<polyline points="191.0,469.1 192.6,472.8 194.2,466.7 195.8,445.7 196.9,427.3 197.8,431.0 199.0,442.1 200.6,461.7 202.2,476.5 203.8,488.8 205.4,501.7 207.0,498.6 208.6,495.5 210.2,496.7 211.8,498.2 213.4,498.0 215.0,493.7 216.6,490.4 218.2,496.7 219.8,507.8 221.4,513.3 223.0,515.8 224.6,518.3 226.2,518.9 227.8,513.3" fill="none" stroke="#ec2024" stroke-width="1.35" stroke-linejoin="round" stroke-linecap="butt"/>
<polyline points="191.0,469.1 192.6,454.4 194.2,437.1 195.8,421.8 197.4,431.0 199.0,451.9 200.6,469.1 202.2,485.1 203.8,501.1 205.4,505.4 207.0,508.4 208.6,510.3 210.2,509.0 211.8,512.1 213.4,515.2 215.0,515.8 216.6,510.3 218.2,505.4 219.8,502.9 221.4,510.3 223.0,515.8 224.6,516.4 226.2,512.7 227.8,513.3 229.4,515.8 231.0,512.1 232.6,509.7 234.2,511.5 235.8,517.7 237.4,522.0 239.0,519.5 240.6,517.7 242.2,523.8 243.8,530.0 245.4,533.0 247.0,536.1 248.6,539.8 250.2,540.4 251.8,535.5 253.4,536.1 255.0,540.4 256.6,541.0 258.2,541.3 259.8,542.0 261.4,536.1 263.0,530.6 264.6,529.3 266.2,523.8 267.8,517.7 269.1,517.3 270.5,513.0 271.7,505.6 272.9,501.2 273.9,500.1 275.4,502.0 276.4,500.5 277.9,493.9 279.3,487.3 280.5,485.9 281.7,486.6 283.0,493.2 284.2,494.7 285.2,495.1 286.4,489.5 287.8,485.6 289.3,487.3 290.7,486.9 292.5,486.6 294.4,487.3 295.9,485.1 297.8,482.9 299.2,485.1 300.7,485.1 302.2,481.5 303.9,478.6 305.4,480.0 307.1,479.7 309.0,477.8 310.5,477.1 312.0,478.6 313.9,478.6 315.3,476.4 316.8,471.2 318.3,465.4 319.7,463.2 320.8,466.1 322.2,471.2 323.3,474.2 324.4,470.5 325.9,466.1 326.6,465.4 327.6,469.0 328.8,474.9 329.8,477.1 331.0,473.4 332.5,468.3 333.9,467.6 335.0,468.3 336.1,470.5 337.6,473.4 339.1,471.2 340.5,469.0 341.3,469.8 342.0,476.4 342.7,479.3" fill="none" stroke="#2b278c" stroke-width="1.35" stroke-linejoin="round" stroke-linecap="butt"/>
</g>
<g clip-path="url(#c32)">
<rect x="370.20" y="415.50" width="59.60" height="132.90" fill="#f3bebe"/>
<rect x="370.20" y="415.50" width="0.6" height="132.90" fill="#eeb0b0"/>
<rect x="429.20" y="415.50" width="0.6" height="132.90" fill="#eeb0b0"/>
<rect x="442.10" y="415.50" width="16.70" height="132.90" fill="#f3bebe"/>
<rect x="442.10" y="415.50" width="0.6" height="132.90" fill="#eeb0b0"/>
<rect x="458.20" y="415.50" width="0.6" height="132.90" fill="#eeb0b0"/>
<polyline points="370.9,496.4 372.7,497.0 374.3,493.9 375.8,492.1 377.3,493.3 378.9,494.3 380.5,492.7 381.9,489.6 383.4,486.6 385.0,493.3 386.2,501.9 387.8,508.0 389.3,511.1 390.9,512.9 392.4,513.5 394.0,511.1 395.4,512.3 396.9,514.1 398.5,514.8 400.1,518.4 401.6,520.9 403.2,522.1 404.6,522.1 406.2,520.9 407.7,522.7 409.2,526.4 410.8,528.9 412.4,529.5 413.8,532.5 415.4,535.0 416.9,536.8 418.5,539.9 420.0,542.1 421.4,539.9 422.7,538.7 424.2,539.9 425.5,541.1 426.7,533.8 427.9,524.6 429.2,524.0 429.8,525.2" fill="none" stroke="#ec2024" stroke-width="1.35" stroke-linejoin="round" stroke-linecap="butt"/>
<polyline points="442.4,497.9 443.6,481.2 445.2,478.6 446.8,476.4 448.3,479.4 450.0,474.6 451.8,468.4 453.6,472.0 455.3,473.7 456.6,474.6 457.9,482.5" fill="none" stroke="#ec2024" stroke-width="1.35" stroke-linejoin="round" stroke-linecap="butt"/>
<polyline points="357.5,466.4 359.1,452.5 360.7,436.3 362.3,421.8 363.9,430.5 365.5,450.2 367.1,466.4 368.7,481.5 370.3,496.6 371.9,500.6 373.5,503.5 375.1,505.3 376.7,504.1 378.3,507.0 379.9,509.9 381.5,510.5 383.1,505.3 384.7,500.6 386.3,498.3 387.9,505.3 389.5,510.5 391.1,511.1 392.7,507.6 394.3,508.2 395.9,510.5 397.5,507.0 399.1,504.7 400.7,506.4 402.3,512.2 403.9,516.3 405.5,514.0 407.1,512.2 408.7,518.0 410.3,523.8 411.9,526.7 413.5,529.6 415.1,533.1 416.7,533.7 418.3,529.1 419.9,529.6 421.5,533.7 423.1,534.3 424.7,534.5 426.3,535.2 427.9,529.6 429.5,524.4 431.1,523.3 432.7,518.0 434.3,512.2 435.6,511.9 437.0,507.8 438.2,500.9 439.4,496.7 440.4,495.6 441.9,497.4 442.9,496.1 444.4,489.8 445.8,483.6 447.0,482.2 448.2,482.9 449.5,489.2 450.7,490.5 451.7,490.9 452.9,485.7 454.3,482.0 455.8,483.6 457.2,483.2 459.0,482.9 460.9,483.6 462.4,481.6 464.3,479.5 465.7,481.6 467.2,481.6 468.7,478.1 470.4,475.3 471.9,476.7 473.6,476.4 475.5,474.6 477.0,474.0 478.5,475.3 480.4,475.3 481.8,473.3 483.3,468.4 484.8,462.9 486.2,460.8 487.3,463.6 488.7,468.4 489.8,471.2 490.9,467.7 492.4,463.6 493.1,462.9 494.1,466.4 495.3,471.9 496.3,474.0 497.5,470.5 499.0,465.7 500.4,465.0 501.5,465.7 502.6,467.7 504.1,470.5 505.6,468.4 507.0,466.4 507.8,467.1 508.5,473.3 509.2,476.0" fill="none" stroke="#2b278c" stroke-width="1.35" stroke-linejoin="round" stroke-linecap="butt"/>
</g>
<g clip-path="url(#c33)">
<rect x="538.10" y="415.50" width="13.80" height="132.90" fill="#f3bebe"/>
<rect x="538.10" y="415.50" width="0.6" height="132.90" fill="#eeb0b0"/>
<rect x="551.30" y="415.50" width="0.6" height="132.90" fill="#eeb0b0"/>
<rect x="669.20" y="415.50" width="6.70" height="132.90" fill="#f3bebe"/>
<rect x="669.20" y="415.50" width="0.6" height="132.90" fill="#eeb0b0"/>
<rect x="675.30" y="415.50" width="0.6" height="132.90" fill="#eeb0b0"/>
<polyline points="538.6,503.4 540.2,499.4 541.7,495.7 543.5,497.0 545.4,498.3 547.2,495.7 548.7,492.8 549.5,490.2 550.4,494.6 551.2,503.4" fill="none" stroke="#ec2024" stroke-width="1.35" stroke-linejoin="round" stroke-linecap="butt"/>
<polyline points="669.4,473.6 670.5,481.8 671.8,494.1 672.8,505.3 673.8,508.9 674.6,510.7" fill="none" stroke="#ec2024" stroke-width="1.35" stroke-linejoin="round" stroke-linecap="butt"/>
<polyline points="524.5,469.1 526.0,454.4 527.6,437.1 529.2,421.8 530.8,431.0 532.4,451.9 533.9,469.1 535.5,485.1 537.1,501.1 538.7,505.4 540.2,508.4 541.8,510.3 543.4,509.0 545.0,512.1 546.6,515.2 548.1,515.8 549.7,510.3 551.3,505.4 552.9,502.9 554.4,510.3 556.0,515.8 557.6,516.4 559.2,512.7 560.8,513.3 562.3,515.8 563.9,512.1 565.5,509.7 567.1,511.5 568.6,517.7 570.2,522.0 571.8,519.5 573.4,517.7 575.0,523.8 576.5,530.0 578.1,533.0 579.7,536.1 581.3,539.8 582.9,540.4 584.4,535.5 586.0,536.1 587.6,540.4 589.2,541.0 590.7,541.3 592.3,542.0 593.9,536.1 595.5,530.6 597.1,529.3 598.6,523.8 600.2,517.7 601.5,517.3 603.0,513.0 604.1,505.6 605.3,501.2 606.3,500.1 607.7,502.0 608.7,500.5 610.2,493.9 611.6,487.3 612.8,485.9 613.9,486.6 615.2,493.2 616.4,494.7 617.4,495.1 618.6,489.5 620.0,485.6 621.5,487.3 622.9,486.9 624.6,486.6 626.5,487.3 628.0,485.1 629.8,482.9 631.3,485.1 632.7,485.1 634.2,481.5 635.9,478.6 637.4,480.0 639.1,479.7 641.0,477.8 642.4,477.1 643.9,478.6 645.7,478.6 647.2,476.4 648.6,471.2 650.1,465.4 651.5,463.2 652.5,466.1 654.0,471.2 655.0,474.2 656.1,470.5 657.6,466.1 658.3,465.4 659.3,469.0 660.5,474.9 661.5,477.1 662.6,473.4 664.1,468.3 665.5,467.6 666.6,468.3 667.7,470.5 669.2,473.4 670.6,471.2 672.0,469.0 672.8,469.8 673.5,476.4 674.2,479.3" fill="none" stroke="#2b278c" stroke-width="1.35" stroke-linejoin="round" stroke-linecap="butt"/>
</g>
<g clip-path="url(#c40)">
<rect x="24.00" y="548.40" width="152.00" height="133.00" fill="#f3bebe"/>
<rect x="24.00" y="548.40" width="0.6" height="133.00" fill="#eeb0b0"/>
<rect x="175.40" y="548.40" width="0.6" height="133.00" fill="#eeb0b0"/>
<polyline points="81.9,609.3 82.1,608.3 83.2,585.5" fill="none" stroke="#ec2024" stroke-width="1.35" stroke-linejoin="round" stroke-linecap="butt"/>
<polyline points="127.2,648.2 128.4,675.2 129.5,654.5" fill="none" stroke="#ec2024" stroke-width="1.35" stroke-linejoin="round" stroke-linecap="butt"/>
<polyline points="91.8,554.9 95.5,554.5 99.1,554.1 102.8,553.9 106.5,553.9 108.3,554.1" fill="none" stroke="#ec2024" stroke-width="1.35" stroke-linejoin="round" stroke-linecap="butt"/>
<polyline points="24.0,666.3 26.4,666.8 28.9,667.1 31.9,667.2 35.6,667.0 39.2,666.2 42.9,665.5 46.5,665.1 50.2,664.9 53.9,665.1 56.3,665.2 58.1,664.8 59.3,663.1 60.6,660.6 61.8,659.7 63.6,659.4 65.4,660.0 66.6,660.6 67.9,659.7 69.7,657.9 71.5,656.8 73.1,655.4 74.3,652.8 75.3,649.3 76.0,644.7 76.8,637.8 77.6,629.8 78.5,621.7 79.4,613.7 80.4,606.8 80.8,599.6 82.0,589.2 83.2,578.8 84.5,569.6 85.4,562.7 86.3,559.8 87.5,557.8 89.4,556.3 91.8,555.4 95.5,554.9 99.1,554.6 102.8,554.4 106.5,554.4 108.3,554.6 109.9,555.5 111.4,557.5 112.6,560.3 113.8,565.0 115.0,571.3 116.2,578.8 117.5,586.9 118.7,594.9 119.9,602.4 121.1,609.9 122.3,618.0 123.3,624.0 124.5,630.9 125.7,637.8 127.0,643.6 128.2,647.6 130.0,650.7 131.8,652.8 133.7,654.2 135.5,655.3 137.3,655.9 139.1,655.6 141.0,654.8 142.8,654.5 144.0,655.1 145.2,656.8 146.5,659.1 147.7,661.9 148.9,664.2 150.1,666.3 151.3,667.7 152.5,668.3 154.4,668.0 156.2,667.7 158.0,667.4 159.9,666.5 161.7,665.6 163.5,665.2 165.3,665.4 167.2,666.0 169.0,666.3 171.4,666.5 173.9,666.5 175.7,666.3" fill="none" stroke="#2b278c" stroke-width="1.35" stroke-linejoin="round" stroke-linecap="butt"/>
</g>
<g clip-path="url(#c41)">
<rect x="285.10" y="548.40" width="25.05" height="133.00" fill="#f3bebe"/>
<rect x="285.10" y="548.40" width="0.6" height="133.00" fill="#eeb0b0"/>
<rect x="309.55" y="548.40" width="0.6" height="133.00" fill="#eeb0b0"/>
<polyline points="286.1,594.3 288.4,605.6 290.6,616.2 292.9,628.2 295.1,641.8 297.4,655.4 299.4,666.0 301.2,672.8 303.0,675.3 304.9,675.0 306.9,673.5 308.7,672.0 309.5,667.5 309.8,659.9" fill="none" stroke="#ec2024" stroke-width="1.35" stroke-linejoin="round" stroke-linecap="butt"/>
<polyline points="190.2,670.0 192.7,670.5 195.1,670.8 198.2,671.0 201.9,670.7 205.6,669.9 209.3,669.2 212.9,668.7 216.6,668.6 220.3,668.7 222.7,668.8 224.6,668.5 225.8,666.7 227.0,664.1 228.3,663.1 230.1,662.9 231.9,663.5 233.2,664.1 234.4,663.1 236.2,661.3 238.1,660.2 239.7,658.7 240.9,656.0 241.9,652.4 242.6,647.7 243.3,640.6 244.2,632.2 245.1,623.9 246.0,615.6 247.0,608.5 247.4,601.0 248.6,590.3 249.9,579.6 251.1,570.1 252.1,562.9 252.9,560.0 254.2,557.9 256.0,556.4 258.5,555.4 262.2,554.9 265.9,554.6 269.5,554.4 273.2,554.4 275.1,554.6 276.7,555.5 278.2,557.6 279.4,560.5 280.6,565.3 281.8,571.9 283.1,579.6 284.3,587.9 285.5,596.3 286.8,604.0 288.0,611.8 289.2,620.1 290.2,626.3 291.4,633.4 292.6,640.6 293.9,646.5 295.1,650.7 296.9,653.9 298.8,656.0 300.6,657.5 302.4,658.6 304.3,659.2 306.1,659.0 308.0,658.1 309.8,657.8 311.0,658.4 312.3,660.2 313.5,662.5 314.7,665.5 315.9,667.9 317.2,670.0 318.4,671.4 319.6,672.0 321.5,671.8 323.3,671.4 325.1,671.1 327.0,670.2 328.8,669.3 330.7,668.8 332.5,669.1 334.3,669.7 336.2,670.0 338.6,670.2 341.1,670.2 342.9,670.0" fill="none" stroke="#2b278c" stroke-width="1.35" stroke-linejoin="round" stroke-linecap="butt"/>
</g>
<g clip-path="url(#c42)">
<rect x="402.10" y="548.40" width="16.80" height="133.00" fill="#f3bebe"/>
<rect x="402.10" y="548.40" width="0.6" height="133.00" fill="#eeb0b0"/>
<rect x="418.30" y="548.40" width="0.6" height="133.00" fill="#eeb0b0"/>
<rect x="448.20" y="548.40" width="31.75" height="133.00" fill="#f3bebe"/>
<rect x="448.20" y="548.40" width="0.6" height="133.00" fill="#eeb0b0"/>
<rect x="479.35" y="548.40" width="0.6" height="133.00" fill="#eeb0b0"/>
<polyline points="402.9,662.6 403.8,666.2 405.4,660.6 406.8,650.8 408.2,636.9 409.8,623.1 411.3,612.2 413.3,603.3 414.7,594.4 416.1,583.6 417.7,569.7" fill="none" stroke="#ec2024" stroke-width="1.35" stroke-linejoin="round" stroke-linecap="butt"/>
<polyline points="448.9,566.2 450.3,575.7 452.2,587.5 454.2,599.4 456.2,609.3 458.2,619.1 459.6,629.0 461.1,638.9 462.7,648.8 464.1,657.7 465.5,664.6 467.1,670.5 469.1,674.5 471.0,674.9 473.0,673.7 475.4,672.1 477.4,670.5 478.5,667.6 479.3,662.6 479.7,660.6" fill="none" stroke="#ec2024" stroke-width="1.35" stroke-linejoin="round" stroke-linecap="butt"/>
<polyline points="357.1,670.0 359.6,670.5 362.0,670.8 365.1,671.0 368.8,670.7 372.5,669.9 376.2,669.2 379.8,668.7 383.5,668.6 387.2,668.7 389.6,668.8 391.5,668.5 392.7,666.7 393.9,664.1 395.2,663.1 397.0,662.9 398.8,663.5 400.1,664.1 401.3,663.1 403.1,661.3 405.0,660.2 406.6,658.7 407.8,656.0 408.8,652.4 409.5,647.7 410.2,640.6 411.1,632.2 412.0,623.9 412.9,615.6 413.9,608.5 414.3,601.0 415.5,590.3 416.8,579.6 418.0,570.1 419.0,562.9 419.8,560.0 421.1,557.9 422.9,556.4 425.4,555.4 429.1,554.9 432.8,554.6 436.4,554.4 440.1,554.4 442.0,554.6 443.6,555.5 445.1,557.6 446.3,560.5 447.5,565.3 448.7,571.9 450.0,579.6 451.2,587.9 452.4,596.3 453.7,604.0 454.9,611.8 456.1,620.1 457.1,626.3 458.3,633.4 459.5,640.6 460.8,646.5 462.0,650.7 463.8,653.9 465.7,656.0 467.5,657.5 469.3,658.6 471.2,659.2 473.0,659.0 474.9,658.1 476.7,657.8 477.9,658.4 479.2,660.2 480.4,662.5 481.6,665.5 482.8,667.9 484.1,670.0 485.3,671.4 486.5,672.0 488.4,671.8 490.2,671.4 492.0,671.1 493.9,670.2 495.7,669.3 497.6,668.8 499.4,669.1 501.2,669.7 503.1,670.0 505.5,670.2 508.0,670.2 509.8,670.0" fill="none" stroke="#2b278c" stroke-width="1.35" stroke-linejoin="round" stroke-linecap="butt"/>
</g>
<g clip-path="url(#c43)">
<rect x="576.05" y="548.40" width="5.80" height="133.00" fill="#f3bebe"/>
<rect x="576.05" y="548.40" width="0.6" height="133.00" fill="#eeb0b0"/>
<rect x="581.25" y="548.40" width="0.6" height="133.00" fill="#eeb0b0"/>
<rect x="620.60" y="548.40" width="6.80" height="133.00" fill="#f3bebe"/>
<rect x="620.60" y="548.40" width="0.6" height="133.00" fill="#eeb0b0"/>
<rect x="626.80" y="548.40" width="0.6" height="133.00" fill="#eeb0b0"/>
<polyline points="576.1,650.3 576.5,640.5 577.1,624.0 578.2,614.0 579.5,608.5 580.7,604.0 581.5,597.0" fill="none" stroke="#ec2024" stroke-width="1.35" stroke-linejoin="round" stroke-linecap="butt"/>
<polyline points="620.6,606.8 621.3,607.5 622.5,610.4 623.7,614.7 624.9,620.9 626.1,628.2 627.0,638.0 627.6,646.6" fill="none" stroke="#ec2024" stroke-width="1.35" stroke-linejoin="round" stroke-linecap="butt"/>
<polyline points="523.7,673.3 526.2,673.8 528.6,674.2 531.7,674.3 535.4,674.1 539.1,673.2 542.8,672.5 546.4,672.0 550.1,671.9 553.8,672.0 556.2,672.1 558.1,671.8 559.3,669.9 560.5,667.2 561.8,666.3 563.6,666.0 565.4,666.6 566.7,667.2 567.9,666.3 569.7,664.4 571.6,663.2 573.2,661.7 574.4,658.9 575.4,655.3 576.1,650.4 576.8,643.0 577.7,634.5 578.6,625.9 579.5,617.4 580.5,610.1 580.9,602.4 582.1,591.4 583.4,580.3 584.6,570.5 585.6,563.2 586.4,560.1 587.7,558.0 589.5,556.4 592.0,555.5 595.7,555.0 599.4,554.6 603.0,554.4 606.7,554.4 608.6,554.6 610.2,555.6 611.7,557.7 612.9,560.7 614.1,565.6 615.3,572.4 616.6,580.3 617.8,588.9 619.0,597.5 620.3,605.4 621.5,613.4 622.7,622.0 623.7,628.4 624.9,635.7 626.1,643.0 627.4,649.1 628.6,653.4 630.4,656.7 632.3,658.9 634.1,660.5 635.9,661.6 637.8,662.2 639.6,662.0 641.5,661.1 643.3,660.8 644.5,661.4 645.8,663.2 647.0,665.6 648.2,668.7 649.4,671.1 650.7,673.3 651.9,674.8 653.1,675.4 655.0,675.2 656.8,674.8 658.6,674.4 660.5,673.6 662.3,672.6 664.2,672.1 666.0,672.4 667.8,673.0 669.7,673.3 672.1,673.6 674.6,673.6 676.4,673.3" fill="none" stroke="#2b278c" stroke-width="1.35" stroke-linejoin="round" stroke-linecap="butt"/>
</g>
<line x1="17.50" y1="16.05" x2="17.50" y2="681.85" stroke="#333" stroke-width="1"/>
<line x1="183.50" y1="16.05" x2="183.50" y2="681.85" stroke="#333" stroke-width="1"/>
<line x1="350.40" y1="16.05" x2="350.40" y2="681.85" stroke="#333" stroke-width="1"/>
<line x1="517.00" y1="16.05" x2="517.00" y2="681.85" stroke="#333" stroke-width="1"/>
<line x1="683.50" y1="16.05" x2="683.50" y2="681.85" stroke="#333" stroke-width="1"/>
<line x1="17.05" y1="16.50" x2="683.95" y2="16.50" stroke="#333" stroke-width="1"/>
<line x1="17.05" y1="150.00" x2="683.95" y2="150.00" stroke="#333" stroke-width="1"/>
<line x1="17.05" y1="282.50" x2="683.95" y2="282.50" stroke="#333" stroke-width="1"/>
<line x1="17.05" y1="415.50" x2="683.95" y2="415.50" stroke="#333" stroke-width="1"/>
<line x1="17.05" y1="548.40" x2="683.95" y2="548.40" stroke="#333" stroke-width="1"/>
<line x1="17.05" y1="681.40" x2="683.95" y2="681.40" stroke="#333" stroke-width="1"/>
<text transform="translate(100.40,11.5) rotate(0.03)" font-size="14.45" text-anchor="middle" stroke="#111" stroke-width="0.2">W-CF</text>
<text transform="translate(266.85,11.5) rotate(0.03)" font-size="14.45" text-anchor="middle" stroke="#111" stroke-width="0.2">NG</text>
<text transform="translate(433.60,11.5) rotate(0.03)" font-size="14.45" text-anchor="middle" stroke="#111" stroke-width="0.2">AB-CF</text>
<text transform="translate(600.15,11.5) rotate(0.03)" font-size="14.45" text-anchor="middle" stroke="#111" stroke-width="0.2">Sub-SpaCE</text>
<text transform="translate(11.2,83.45) rotate(-90.03)" font-size="13.3" letter-spacing="-0.3" text-anchor="middle" stroke="#111" stroke-width="0.2">CBF [2]</text>
<text transform="translate(11.2,216.45) rotate(-90.03)" font-size="13.3" letter-spacing="-0.3" text-anchor="middle" stroke="#111" stroke-width="0.2">chinatown [19]</text>
<text transform="translate(11.2,349.20) rotate(-90.03)" font-size="13.3" letter-spacing="-0.3" text-anchor="middle" stroke="#111" stroke-width="0.2">coffee [3]</text>
<text transform="translate(11.2,482.15) rotate(-90.03)" font-size="13.3" letter-spacing="-0.3" text-anchor="middle" stroke="#111" stroke-width="0.2">ECG200 [13]</text>
<text transform="translate(11.2,615.10) rotate(-90.03)" font-size="13.3" letter-spacing="-0.3" text-anchor="middle" stroke="#111" stroke-width="0.2">gunpoint [15]</text>
</svg></body></html>
